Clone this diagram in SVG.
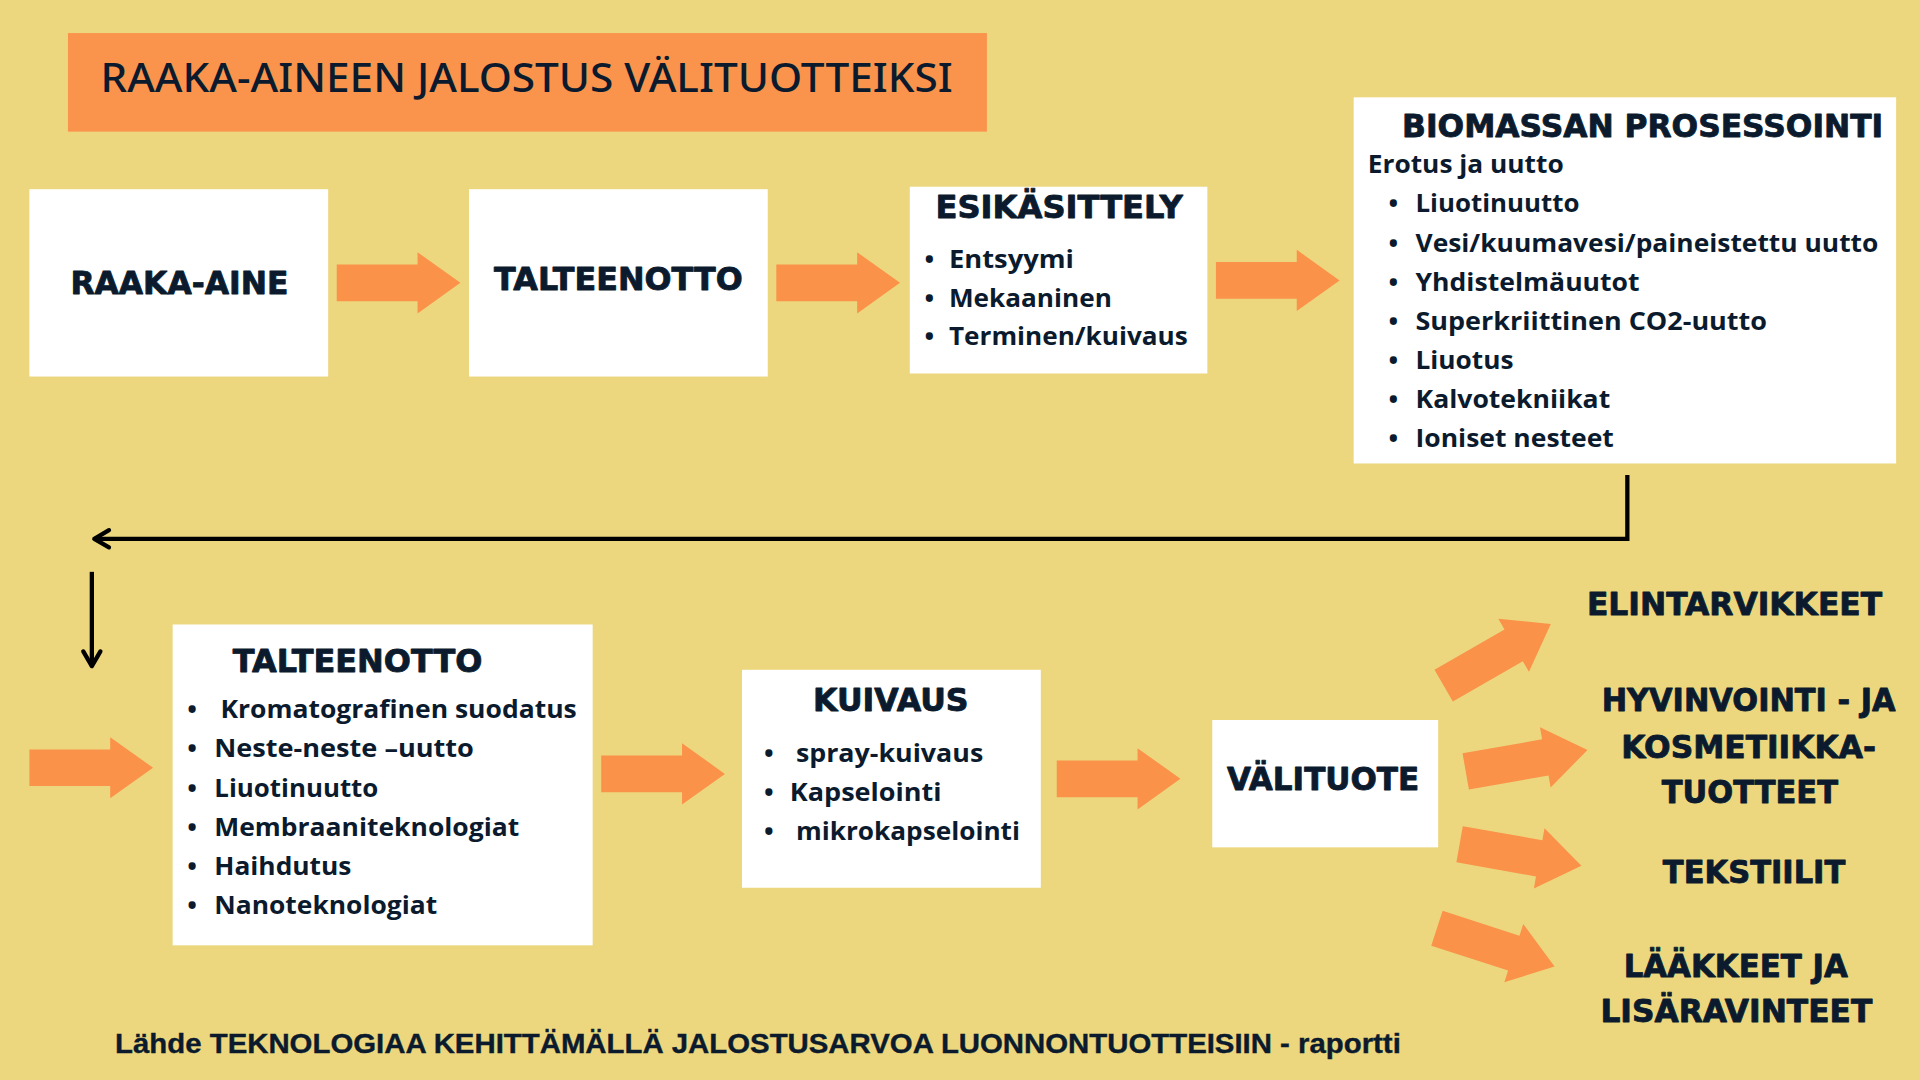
<svg xmlns="http://www.w3.org/2000/svg" width="1920" height="1080" viewBox="0 0 1920 1080">
<defs>
<style>
.bg{fill:#ECD77F}
.box{fill:#FFFFFF}
.ttlbox{fill:#FA944D}
.arr{fill:#FA9249}
.h{font-family:"DejaVu Sans","Liberation Sans",sans-serif;font-weight:700;font-size:26px;fill:#0B1B2D;stroke:#0B1B2D;stroke-width:0.7px;stroke-linejoin:round}
.b{font-family:"Open Sans","Liberation Sans",sans-serif;font-weight:700;font-size:21px;fill:#0B1B2D}
.t{font-family:"Noto Sans","Liberation Sans",sans-serif;font-weight:500;font-size:32px;fill:#0B1B2D}
.f{font-family:"Liberation Sans",sans-serif;font-weight:700;font-size:22px;fill:#0B1B2D;stroke:#0B1B2D;stroke-width:0.3px}
.con{fill:none;stroke:#000;stroke-width:3.5;stroke-linejoin:miter}
</style>
<path id="arrow" d="M0,-15 H66 V-25 L101,0 L66,25 V15 H0 Z"/>
<marker id="chev" markerUnits="userSpaceOnUse" viewBox="-16 -10 20 20" refX="0" refY="0" markerWidth="20" markerHeight="20" orient="auto">
<path d="M-12,-7 L0,0 L-12,7" fill="none" stroke="#000" stroke-width="3.5" stroke-linecap="round" stroke-linejoin="round"/>
</marker>
</defs>
<rect class="bg" x="0" y="0" width="1920" height="1080"/>
<g transform="scale(1.2244898)">
<g id="title">
<rect class="ttlbox" x="55.5" y="27" width="750.5" height="80.5"/>
<text class="t" x="82" y="75" textLength="696" lengthAdjust="spacingAndGlyphs">RAAKA-AINEEN JALOSTUS VÄLITUOTTEIKSI</text>
</g>
<g id="connectors">
<use href="#arrow" class="arr" transform="translate(275,231)"/>
<use href="#arrow" class="arr" transform="translate(634,231)"/>
<use href="#arrow" class="arr" transform="translate(993,229)"/>
<path class="con" d="M1329,388 V440 H77" marker-end="url(#chev)"/>
<path class="con" d="M75,467 V544" marker-end="url(#chev)"/>
<use href="#arrow" class="arr" transform="translate(24,627)"/>
<use href="#arrow" class="arr" transform="translate(491,632)"/>
<use href="#arrow" class="arr" transform="translate(863,636)"/>
<use href="#arrow" class="arr" transform="translate(1179,560) rotate(-30)"/>
<use href="#arrow" class="arr" transform="translate(1197,630) rotate(-10)"/>
<use href="#arrow" class="arr" transform="translate(1192,689.5) rotate(10)"/>
<use href="#arrow" class="arr" transform="translate(1173.5,758) rotate(18)"/>
</g>
<g id="raaka-aine">
<rect class="box" x="24" y="154.5" width="244" height="153"/>
<text class="h" x="57.5" y="240" textLength="178" lengthAdjust="spacingAndGlyphs">RAAKA-AINE</text>
</g>
<g id="talteenotto-1">
<rect class="box" x="383" y="154.5" width="244" height="153"/>
<text class="h" x="403.5" y="237" textLength="203" lengthAdjust="spacingAndGlyphs">TALTEENOTTO</text>
</g>
<g id="esikasittely">
<rect class="box" x="743" y="152.5" width="243" height="152.5"/>
<text class="h" x="764" y="178" textLength="202" lengthAdjust="spacingAndGlyphs">ESIKÄSITTELY</text>
<text class="b"><tspan x="755" y="219">•</tspan><tspan x="775" textLength="102" lengthAdjust="spacingAndGlyphs">Entsyymi</tspan></text>
<text class="b"><tspan x="755" y="250.5">•</tspan><tspan x="775" textLength="133" lengthAdjust="spacingAndGlyphs">Mekaaninen</tspan></text>
<text class="b"><tspan x="755" y="282">•</tspan><tspan x="775" textLength="195" lengthAdjust="spacingAndGlyphs">Terminen/kuivaus</tspan></text>
</g>
<g id="biomassan-prosessointi">
<rect class="box" x="1105.5" y="79.5" width="443" height="299"/>
<text class="h" x="1145" y="112" textLength="393" lengthAdjust="spacingAndGlyphs">BIOMASSAN PROSESSOINTI</text>
<text class="b" x="1117" y="141.5" textLength="160" lengthAdjust="spacingAndGlyphs">Erotus ja uutto</text>
<text class="b"><tspan x="1134" y="173.5">•</tspan><tspan x="1156" textLength="134" lengthAdjust="spacingAndGlyphs">Liuotinuutto</tspan></text>
<text class="b"><tspan x="1134" y="205.5">•</tspan><tspan x="1156" textLength="378" lengthAdjust="spacingAndGlyphs">Vesi/kuumavesi/paineistettu uutto</tspan></text>
<text class="b"><tspan x="1134" y="237.5">•</tspan><tspan x="1156" textLength="183" lengthAdjust="spacingAndGlyphs">Yhdistelmäuutot</tspan></text>
<text class="b"><tspan x="1134" y="269.5">•</tspan><tspan x="1156" textLength="287" lengthAdjust="spacingAndGlyphs">Superkriittinen CO2-uutto</tspan></text>
<text class="b"><tspan x="1134" y="301">•</tspan><tspan x="1156" textLength="80" lengthAdjust="spacingAndGlyphs">Liuotus</tspan></text>
<text class="b"><tspan x="1134" y="333">•</tspan><tspan x="1156" textLength="159" lengthAdjust="spacingAndGlyphs">Kalvotekniikat</tspan></text>
<text class="b"><tspan x="1134" y="365">•</tspan><tspan x="1156" textLength="162" lengthAdjust="spacingAndGlyphs">Ioniset nesteet</tspan></text>
</g>
<g id="talteenotto-2">
<rect class="box" x="141" y="510" width="343" height="262"/>
<text class="h" x="190" y="548.5" textLength="204" lengthAdjust="spacingAndGlyphs">TALTEENOTTO</text>
<text class="b"><tspan x="153" y="586.5">•</tspan><tspan x="180" textLength="291" lengthAdjust="spacingAndGlyphs">Kromatografinen suodatus</tspan></text>
<text class="b"><tspan x="153" y="618.5">•</tspan><tspan x="175" textLength="212" lengthAdjust="spacingAndGlyphs">Neste-neste –uutto</tspan></text>
<text class="b"><tspan x="153" y="650.5">•</tspan><tspan x="175" textLength="134" lengthAdjust="spacingAndGlyphs">Liuotinuutto</tspan></text>
<text class="b"><tspan x="153" y="682.5">•</tspan><tspan x="175" textLength="249" lengthAdjust="spacingAndGlyphs">Membraaniteknologiat</tspan></text>
<text class="b"><tspan x="153" y="714.5">•</tspan><tspan x="175" textLength="112" lengthAdjust="spacingAndGlyphs">Haihdutus</tspan></text>
<text class="b"><tspan x="153" y="746.5">•</tspan><tspan x="175" textLength="182" lengthAdjust="spacingAndGlyphs">Nanoteknologiat</tspan></text>
</g>
<g id="kuivaus">
<rect class="box" x="606" y="547" width="244" height="178"/>
<text class="h" x="664" y="581" textLength="127" lengthAdjust="spacingAndGlyphs">KUIVAUS</text>
<text class="b"><tspan x="624" y="622">•</tspan><tspan x="650" textLength="153" lengthAdjust="spacingAndGlyphs">spray-kuivaus</tspan></text>
<text class="b"><tspan x="624" y="654">•</tspan><tspan x="645" textLength="124" lengthAdjust="spacingAndGlyphs">Kapselointi</tspan></text>
<text class="b"><tspan x="624" y="686">•</tspan><tspan x="650" textLength="183" lengthAdjust="spacingAndGlyphs">mikrokapselointi</tspan></text>
</g>
<g id="valituote">
<rect class="box" x="990" y="588" width="184.5" height="104"/>
<text class="h" x="1002" y="645.5" textLength="157" lengthAdjust="spacingAndGlyphs">VÄLITUOTE</text>
</g>
<g id="elintarvikkeet">
<text class="h" x="1296" y="502" textLength="241" lengthAdjust="spacingAndGlyphs">ELINTARVIKKEET</text>
</g>
<g id="hyvinvointi">
<text class="h" x="1308" y="581" textLength="240" lengthAdjust="spacingAndGlyphs">HYVINVOINTI - JA</text>
<text class="h" x="1324" y="619" textLength="208" lengthAdjust="spacingAndGlyphs">KOSMETIIKKA-</text>
<text class="h" x="1357" y="656" textLength="144" lengthAdjust="spacingAndGlyphs">TUOTTEET</text>
</g>
<g id="tekstiilit">
<text class="h" x="1358" y="721" textLength="149" lengthAdjust="spacingAndGlyphs">TEKSTIILIT</text>
</g>
<g id="laakkeet">
<text class="h" x="1326" y="797.5" textLength="183" lengthAdjust="spacingAndGlyphs">LÄÄKKEET JA</text>
<text class="h" x="1307" y="835" textLength="222" lengthAdjust="spacingAndGlyphs">LISÄRAVINTEET</text>
</g>
<g id="source">
<text class="f" x="94" y="860" textLength="1050" lengthAdjust="spacingAndGlyphs">Lähde TEKNOLOGIAA KEHITTÄMÄLLÄ JALOSTUSARVOA LUONNONTUOTTEISIIN - raportti</text>
</g>
</g>
</svg>
